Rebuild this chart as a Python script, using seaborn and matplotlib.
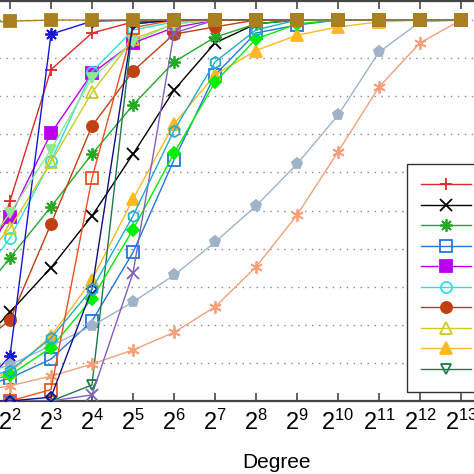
import matplotlib
matplotlib.use("Agg")
import matplotlib.pyplot as plt
import seaborn as sns

# degree exponents (x = 2**k)
exponents = [1, 2, 3, 4, 5, 6, 7, 8, 9, 10, 11, 12, 13]
degree = [2 ** k for k in exponents]

# cumulative fraction per graph
red_plus = [0.20, 0.525, 0.87, 0.966, 0.995, 1, 1, 1, 1, 1, 1, 1, 1]
black_x = [0.12, 0.233, 0.35, 0.486, 0.648, 0.816, 0.94, 0.99, 1, 1, 1, 1, 1]
green_star = [0.24, 0.376, 0.51, 0.648, 0.777, 0.89, 0.955, 0.99, 1, 1, 1, 1, 1]
blue_square = [0.03, 0.06, 0.11, 0.21, 0.39, 0.633, 0.856, 0.966, 0.987, 1, 1, 1, 1]
magenta_square = [0.34, 0.483, 0.703, 0.86, 0.94, 0.98, 1, 1, 1, 1, 1, 1, 1]
cyan_circle = [0.28, 0.428, 0.63, 0.864, 0.974, 0.995, 1, 1, 1, 1, 1, 1, 1]
brown_circle = [0.125, 0.213, 0.465, 0.722, 0.866, 0.963, 0.982, 1, 1, 1, 1, 1, 1]
yellow_tri = [0.33, 0.454, 0.627, 0.81, 0.95, 0.99, 1, 1, 1, 1, 1, 1, 1]
orange_tri = [0.04, 0.075, 0.17, 0.318, 0.53, 0.727, 0.856, 0.92, 0.96, 0.982, 0.995, 1, 1]
dkgreen_tri = [0, 0, 0, 0.042, 0.99, 1, 1, 1, 1, 1, 1, 1, 1]
navy_star = [0, 0.118, 0.963, 0.997, 1, 1, 1, 1, 1, 1, 1, 1, 1]
gray_pent = [0.06, 0.095, 0.145, 0.197, 0.26, 0.33, 0.417, 0.512, 0.622, 0.75, 0.916, 0.995, 1]
salmon_star = [0.02, 0.04, 0.065, 0.097, 0.134, 0.18, 0.247, 0.352, 0.488, 0.654, 0.824, 0.94, 1]
gold_square = [0.99, 0.997, 1, 1, 1, 1, 1, 1, 1, 1, 1, 1, 1]
lime_diamond = [0.04, 0.068, 0.14, 0.268, 0.45, 0.65, 0.837, 0.95, 0.99, 1, 1, 1, 1]
ltgreen_tri = [0.35, 0.493, 0.66, 0.848, 0.943, 0.99, 1, 1, 1, 1, 1, 1, 1]
orangered_square = [0, 0, 0.03, 0.585, 0.98, 1, 1, 1, 1, 1, 1, 1, 1]
purple_x = [0, 0, 0, 0.016, 0.336, 0.966, 1, 1, 1, 1, 1, 1, 1]
navy_diamond = [0, 0, 0.01, 0.294, 0.99, 1, 1, 1, 1, 1, 1, 1, 1]
teal_hex = [0.05, 0.08, 0.165, 0.294, 0.486, 0.71, 0.89, 0.974, 1, 1, 1, 1, 1]

labels = [f"G{i:02d}" for i in range(1, 21)]

# (values, color, marker, filled, size)
series = [
    (red_plus, "#dd2a2a", "+", True, 9),
    (black_x, "#000000", "x", True, 8),
    (green_star, "#22aa22", (8, 2, 0), True, 9),
    (blue_square, "#2277dd", "s", False, 8),
    (magenta_square, "#bb00ee", "s", True, 8),
    (cyan_circle, "#33dddd", "o", False, 8),
    (brown_circle, "#c04010", "o", True, 8),
    (yellow_tri, "#cccc22", "^", False, 8),
    (orange_tri, "#ffb820", "^", True, 8),
    (dkgreen_tri, "#1e7a4a", "v", False, 7),
    (navy_star, "#1515dd", (8, 2, 0), True, 9),
    (gray_pent, "#9fb3c8", "p", True, 8),
    (salmon_star, "#f4a07a", (6, 2, 0), True, 9),
    (gold_square, "#a88020", "s", True, 8),
    (lime_diamond, "#00ee00", "D", True, 6),
    (ltgreen_tri, "#90e890", "v", True, 7),
    (orangered_square, "#f05020", "s", False, 8),
    (purple_x, "#8060c0", "x", True, 8),
    (navy_diamond, "#101080", "D", False, 5),
    (teal_hex, "#22aacc", "h", False, 8),
]

plt.rcParams["font.family"] = ["Liberation Sans", "DejaVu Sans"]
plt.rcParams["mathtext.default"] = "regular"

fig = plt.figure(figsize=(4.74, 4.74), dpi=100)
# the axes run past the left and right borders of the figure (cropped look)
ax = fig.add_axes([-10.5 / 474, 73 / 474, 492 / 474, 400 / 474])

for (vals, color, marker, filled, size), label in zip(series, labels):
    sns.lineplot(
        x=degree,
        y=vals,
        ax=ax,
        color=color,
        marker=marker,
        markersize=size,
        markeredgecolor=color,
        markerfacecolor=color if filled else "none",
        markeredgewidth=1.3,
        linewidth=1.0,
        errorbar=None,
        label=label,
        zorder=6 if color == "#a88020" else 3,
    )

ax.set_xscale("log", base=2)
ax.set_xticks(degree)
ax.set_xticklabels([f"$2^{{{k}}}$" for k in exponents], fontsize=17)
ax.xaxis.set_minor_locator(matplotlib.ticker.NullLocator())
ax.set_yticks([i / 10 for i in range(11)])
ax.set_xlim(2 ** 1.5, 2 ** 13.5)
ax.set_ylim(0, 1.05)
ax.tick_params(axis="x", direction="in", top=True, length=6, width=1.3,
               color="#555555", pad=6)
ax.tick_params(axis="y", direction="in", right=False, length=6, width=1.3)

ax.yaxis.grid(True, linestyle=(0, (1, 4)), color="#888888", linewidth=1.0)
ax.set_axisbelow(True)
for sp in ax.spines.values():
    sp.set_linewidth(1.6)
    sp.set_color("#444444")

ax.set_xlabel("Degree", fontsize=15)
ax.xaxis.set_label_coords(0.583, -0.13)
ax.set_ylabel("")

handles, labs = ax.get_legend_handles_labels()
leg = ax.legend(
    handles,
    labs,
    ncol=2,
    loc="upper left",
    bbox_to_anchor=(407 / 474, 1 - 164 / 474),
    bbox_transform=fig.transFigure,
    borderaxespad=0,
    fontsize=12,
    handlelength=3.0,
    labelspacing=0.33,
    borderpad=0.85,
    fancybox=False,
    framealpha=1,
    edgecolor="#333333",
)
leg.get_frame().set_linewidth(1.0)
leg.set_zorder(10)

fig.savefig("out.png", dpi=100, facecolor="white")
